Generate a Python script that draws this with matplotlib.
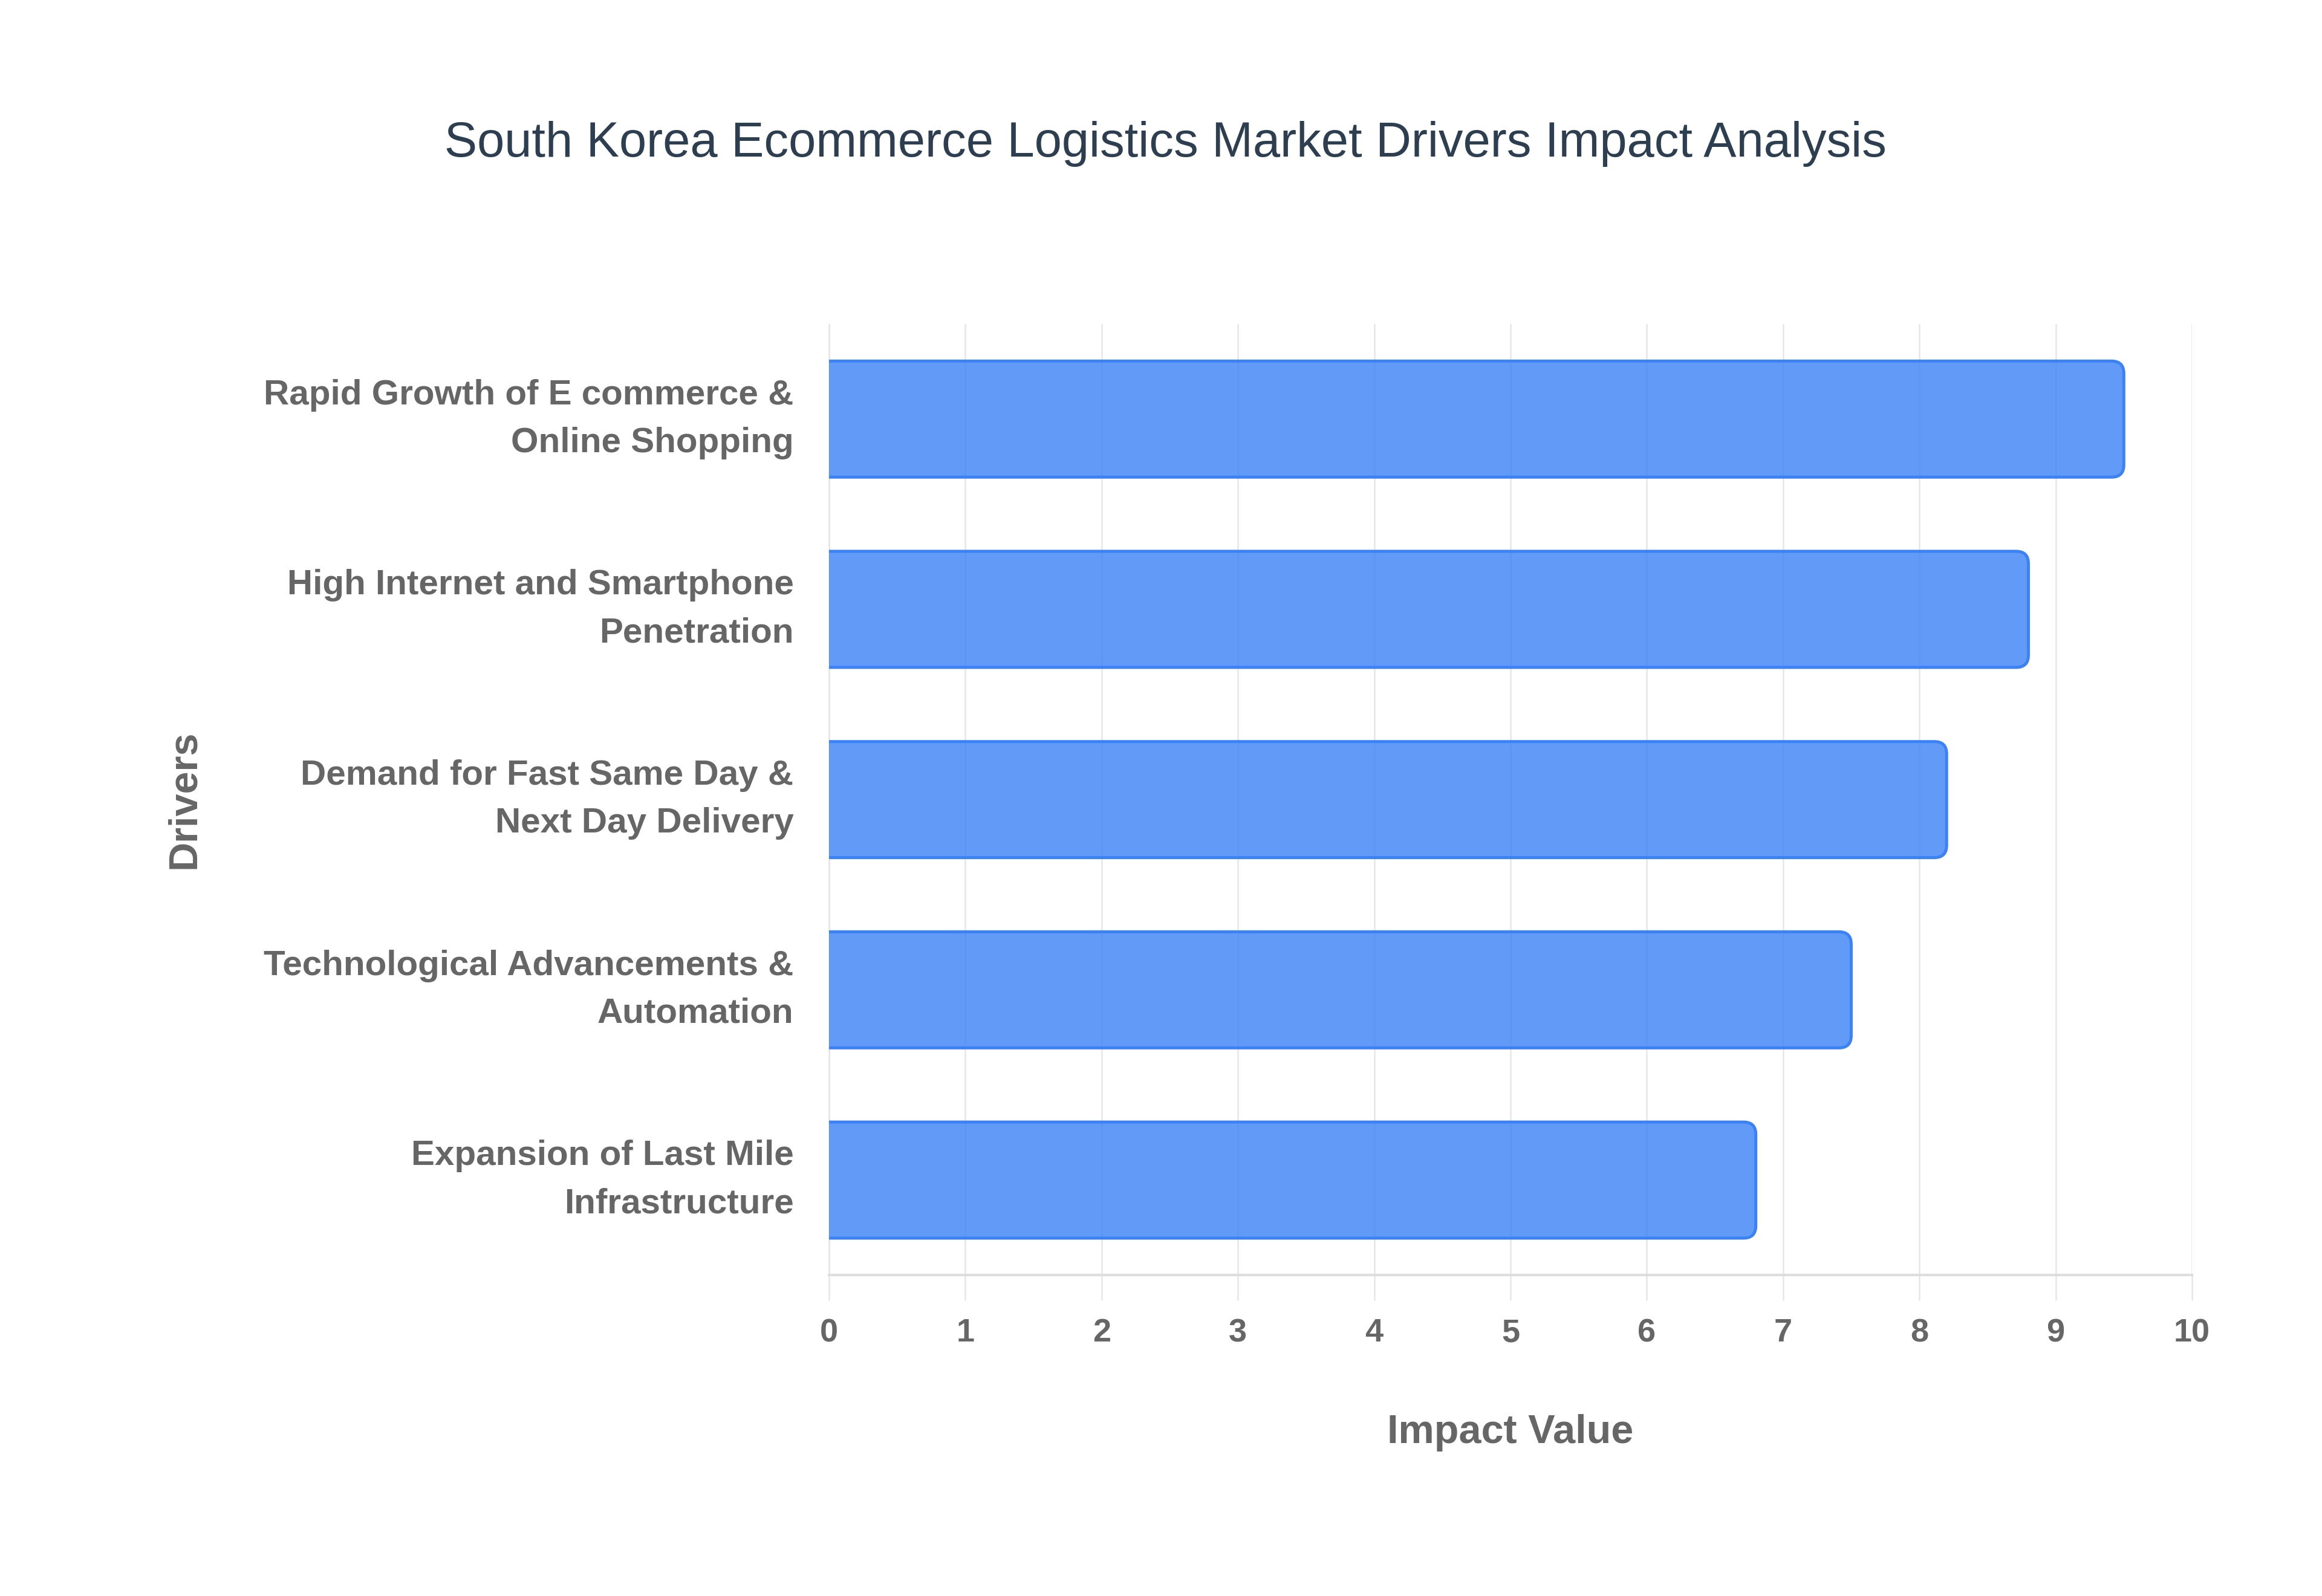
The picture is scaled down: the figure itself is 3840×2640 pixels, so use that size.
import matplotlib.pyplot as plt
from matplotlib.patches import FancyBboxPatch
from matplotlib.transforms import ScaledTranslation

# DATA ------------------------------------------------------
drivers = [
    "Rapid Growth of E commerce &\nOnline Shopping",
    "High Internet and Smartphone\nPenetration",
    "Demand for Fast Same Day &\nNext Day Delivery",
    "Technological Advancements &\nAutomation",
    "Expansion of Last Mile\nInfrastructure",
]
impact = [9.5, 8.8, 8.2, 7.5, 6.8]
x_ticks = [0, 1, 2, 3, 4, 5, 6, 7, 8, 9, 10]

title = "South Korea Ecommerce Logistics Market Drivers Impact Analysis"

# Styles ----------------------------------------------------
bar_color = "#3B82F6"
text_gray = "#666666"
grid_gray = "#E6E6E6"
title_color = "#2C3E50"

plt.rcParams["font.family"] = ["Liberation Sans", "DejaVu Sans"]

fig = plt.figure(figsize=(12.8, 8.8), dpi=300)
ax = fig.add_axes([0.357, 0.201, 0.587, 0.596])

ypos = list(range(len(drivers)))
bars = ax.barh(ypos, impact, height=0.61, color="none", edgecolor="none")

# rounded right corners: redraw each bar as a rounded box, left side clipped by the axes
r = 0.09
for b in bars:
    x, y = b.get_x(), b.get_y()
    w, h = b.get_width(), b.get_height()
    box = FancyBboxPatch((x - r * 2, y), w + r * 2, h,
                         boxstyle="round,pad=0,rounding_size=%f" % r,
                         mutation_aspect=0.72,
                         facecolor=bar_color, alpha=0.8, edgecolor="none", zorder=3)
    ax.add_patch(box)
    edge = FancyBboxPatch((x - r * 2, y), w + r * 2, h,
                          boxstyle="round,pad=0,rounding_size=%f" % r,
                          mutation_aspect=0.72,
                          facecolor="none", edgecolor=bar_color, linewidth=1.2, zorder=4)
    ax.add_patch(edge)

ax.set_xlim(0, 10)
ax.set_ylim(len(drivers) - 0.5, -0.5)
ax.set_xticks(x_ticks)
ax.set_yticks(ypos)
ax.set_yticklabels(drivers, fontsize=14, fontweight="bold", color=text_gray,
                   linespacing=1.6)
ax.set_xticklabels([str(t) for t in x_ticks], fontsize=13, fontweight="bold", color=text_gray)

ax.tick_params(axis="y", length=0, pad=14)
ax.tick_params(axis="x", length=10, width=0.6, color=grid_gray, pad=7)

# nudge y labels up a little (descenders pull the bbox centre down)
shift = ScaledTranslation(0, 4.5 / 72, fig.dpi_scale_trans)
for lab in ax.get_yticklabels():
    lab.set_transform(lab.get_transform() + shift)

ax.grid(axis="x", color=grid_gray, linewidth=0.6, zorder=0)
ax.set_axisbelow(True)

for side in ["top", "right"]:
    ax.spines[side].set_visible(False)
ax.spines["left"].set_color(grid_gray)
ax.spines["left"].set_linewidth(0.6)
ax.spines["bottom"].set_color("#DDDDDD")
ax.spines["bottom"].set_linewidth(1.0)

ax.set_xlabel("Impact Value", fontsize=16, fontweight="bold", color=text_gray, labelpad=26)
ax.set_ylabel("Drivers", fontsize=16, fontweight="bold", color=text_gray, labelpad=24)

fig.text(0.502, 0.910, title, ha="center", va="center", fontsize=19.5,
         color=title_color)

fig.savefig("out.png", dpi=300, facecolor="white")
